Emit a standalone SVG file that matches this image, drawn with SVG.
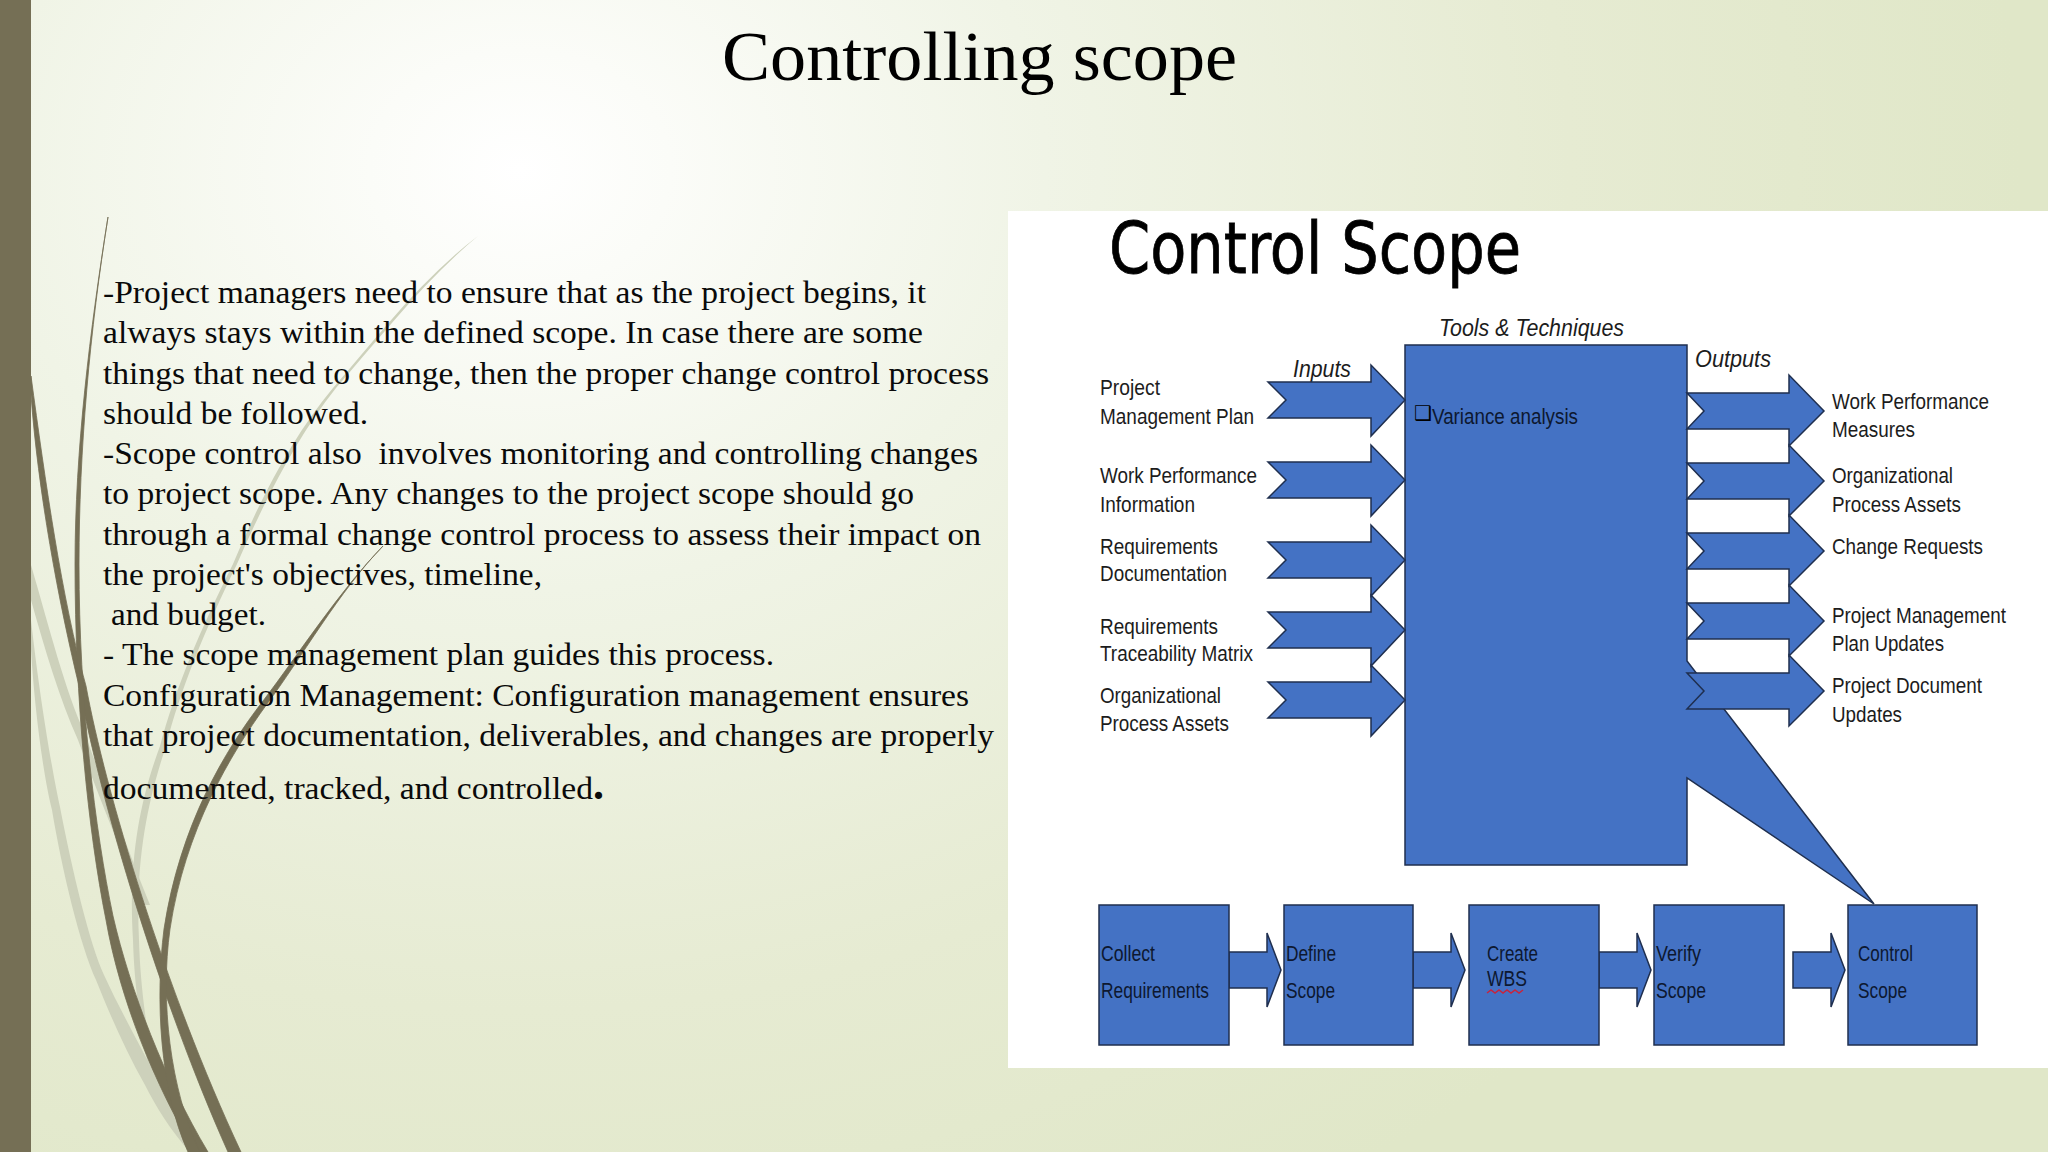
<svg xmlns="http://www.w3.org/2000/svg" width="2048" height="1152" viewBox="0 0 2048 1152">
<defs>
<radialGradient id="bg" gradientUnits="userSpaceOnUse" cx="520" cy="170" r="1500" gradientTransform="translate(520 170) scale(1 0.8) translate(-520 -170)">
<stop offset="0" stop-color="#ffffff"/><stop offset="0.1" stop-color="#fbfcf8"/><stop offset="0.35" stop-color="#f0f4e6"/><stop offset="0.7" stop-color="#e6ebd2"/><stop offset="1" stop-color="#e0e7c8"/>
</radialGradient>
<polygon id="inArrow" points="0,17 103,17 103,0 137,35 103,71 103,53 0,53 18,35"/>
<polygon id="outArrow" points="0,18 102,18 102,0 137,36 102,71 102,54 0,54 17,36"/>
<polygon id="stepArrow" points="0,-18 38,-18 38,-37 52,0 38,37 38,18 0,18"/>
</defs>
<style>
.blue{fill:#4472c4;stroke:#1f2f4f;stroke-width:1.5}
.lab{font-family:"Liberation Sans",Arial,sans-serif;font-size:22px;fill:#1c1c1c}
.it{font-family:"Liberation Sans",Arial,sans-serif;font-size:24px;font-style:italic;fill:#1c1c1c}
.in{font-family:"Liberation Sans",Arial,sans-serif;font-size:22px;fill:#0d1830}
.body{font-family:"Liberation Serif","Times New Roman",serif;font-size:32px;fill:#0a0a0a}
.dark{fill:#756f55;stroke:#756f55;stroke-width:.8}
.lite{fill:#cdd1bb}
</style>
<rect id="background" width="2048" height="1152" fill="url(#bg)"/>
<rect id="bar" width="31" height="1152" fill="#756f55"/>
<g id="wisps">
<path class="lite" d="M478,236 C420,280 375,340 333,388 C290,440 260,500 233,564 C200,630 175,690 160,746 C140,800 128,860 133,940 C134,980 140,1030 150,1075 L155,1072 C146,1030 140,980 139,940 C135,860 148,800 166,746 C180,690 205,630 237,564 C265,500 295,440 336,388 C378,340 425,280 478,236Z"/>
<path class="lite" d="M31,565 C50,630 65,690 85,734 C105,790 125,840 140,880 L150,905 L143,905 C125,860 100,800 78,740 C60,700 45,650 31,600Z"/>
<path class="lite" d="M31,620 C40,700 52,770 60,807 C72,870 90,945 104,975 C120,1010 140,1045 155,1075 C170,1100 185,1130 205,1152 L190,1152 C170,1130 155,1105 145,1085 C125,1050 108,1010 96,980 C80,945 62,870 52,810 C42,770 34,700 31,650Z"/>
<path class="dark" d="M31,376 C45,480 62,600 86,686 C105,790 165,990 241,1152 L228,1152 C160,1000 100,800 80,690 C58,600 38,490 31,395Z"/>
<path class="dark" d="M108,217 C90,330 79,450 79,564 C79,700 95,830 113,916 C130,990 165,1080 208,1152 L195,1152 C155,1085 120,1000 106,920 C88,830 75,700 75,564 C75,450 90,330 108,217Z"/>
<path class="dark" d="M383,546 C340,590 300,660 267,704 C230,755 185,830 170,929 C160,1000 170,1090 200,1152 L188,1152 C160,1090 155,1000 164,929 C180,825 225,750 263,701 C298,655 340,590 383,546Z"/>
</g>
<g id="title"><text x="722" y="80" font-family="Liberation Serif,Times New Roman,serif" font-size="69" fill="#000" textLength="515" lengthAdjust="spacingAndGlyphs">Controlling scope</text></g>
<g id="body-text" class="body">
<text x="103" y="303" textLength="823" lengthAdjust="spacingAndGlyphs">-Project managers need to ensure that as the project begins, it</text>
<text x="103" y="343" textLength="820" lengthAdjust="spacingAndGlyphs">always stays within the defined scope. In case there are some</text>
<text x="103" y="384" textLength="886" lengthAdjust="spacingAndGlyphs">things that need to change, then the proper change control process</text>
<text x="103" y="424" textLength="265" lengthAdjust="spacingAndGlyphs">should be followed.</text>
<text x="103" y="464" textLength="875" lengthAdjust="spacingAndGlyphs" xml:space="preserve">-Scope control also  involves monitoring and controlling changes</text>
<text x="103" y="504" textLength="811" lengthAdjust="spacingAndGlyphs">to project scope. Any changes to the project scope should go</text>
<text x="103" y="545" textLength="878" lengthAdjust="spacingAndGlyphs">through a formal change control process to assess their impact on</text>
<text x="103" y="585" textLength="439" lengthAdjust="spacingAndGlyphs">the project's objectives, timeline,</text>
<text x="111" y="625" textLength="155" lengthAdjust="spacingAndGlyphs">and budget.</text>
<text x="103" y="665" textLength="671" lengthAdjust="spacingAndGlyphs">- The scope management plan guides this process.</text>
<text x="103" y="706" textLength="866" lengthAdjust="spacingAndGlyphs">Configuration Management: Configuration management ensures</text>
<text x="103" y="746" textLength="891" lengthAdjust="spacingAndGlyphs">that project documentation, deliverables, and changes are properly</text>
<text x="103" y="799" textLength="490" lengthAdjust="spacingAndGlyphs">documented, tracked, and controlled</text>
<text x="593" y="799" font-size="44" font-weight="bold">.</text>
</g>
<rect id="picture" x="1008" y="211" width="1040" height="857" fill="#ffffff"/>
<g id="heading"><text x="1109" y="273" font-family="DejaVu Sans,sans-serif" font-size="72" fill="#000" stroke="#000" stroke-width=".8" textLength="412" lengthAdjust="spacingAndGlyphs">Control Scope</text></g>
<g id="process"><path class="blue" d="M1405,345 H1687 V661 L1874,904 L1687,778 V865 H1405Z"/>
<text x="1414" y="420" style="font-family:'DejaVu Sans',sans-serif;font-size:20px;fill:#000">❑</text>
<text class="in" x="1432" y="424" textLength="146" lengthAdjust="spacingAndGlyphs">Variance analysis</text></g>
<g id="headers">
<text class="it" x="1439" y="336" textLength="185" lengthAdjust="spacingAndGlyphs">Tools &amp; Techniques</text>
<text class="it" x="1293" y="377" textLength="58" lengthAdjust="spacingAndGlyphs">Inputs</text>
<text class="it" x="1695" y="367" textLength="76" lengthAdjust="spacingAndGlyphs">Outputs</text>
</g>
<g id="connectors">
<use href="#inArrow" class="blue" x="1268" y="365"/>
<use href="#inArrow" class="blue" x="1268" y="445"/>
<use href="#inArrow" class="blue" x="1268" y="525"/>
<use href="#inArrow" class="blue" x="1268" y="595"/>
<use href="#inArrow" class="blue" x="1268" y="665"/>
<use href="#outArrow" class="blue" x="1687" y="375"/>
<use href="#outArrow" class="blue" x="1687" y="445"/>
<use href="#outArrow" class="blue" x="1687" y="515"/>
<use href="#outArrow" class="blue" x="1687" y="585"/>
<use href="#outArrow" class="blue" x="1687" y="655"/>
<use href="#stepArrow" class="blue" x="1229" y="970"/>
<use href="#stepArrow" class="blue" x="1413" y="970"/>
<use href="#stepArrow" class="blue" x="1599" y="970"/>
<use href="#stepArrow" class="blue" x="1793" y="970"/>
</g>
<g id="inputs">
<g class="lab" id="in1"><text x="1100" y="395" textLength="60" lengthAdjust="spacingAndGlyphs">Project</text><text x="1100" y="424" textLength="154" lengthAdjust="spacingAndGlyphs">Management Plan</text></g>
<g class="lab" id="in2"><text x="1100" y="483" textLength="157" lengthAdjust="spacingAndGlyphs">Work Performance</text><text x="1100" y="512" textLength="95" lengthAdjust="spacingAndGlyphs">Information</text></g>
<g class="lab" id="in3"><text x="1100" y="554" textLength="118" lengthAdjust="spacingAndGlyphs">Requirements</text><text x="1100" y="581" textLength="127" lengthAdjust="spacingAndGlyphs">Documentation</text></g>
<g class="lab" id="in4"><text x="1100" y="634" textLength="118" lengthAdjust="spacingAndGlyphs">Requirements</text><text x="1100" y="661" textLength="153" lengthAdjust="spacingAndGlyphs">Traceability Matrix</text></g>
<g class="lab" id="in5"><text x="1100" y="703" textLength="121" lengthAdjust="spacingAndGlyphs">Organizational</text><text x="1100" y="731" textLength="129" lengthAdjust="spacingAndGlyphs">Process Assets</text></g>
</g>
<g id="outputs">
<g class="lab" id="out1"><text x="1832" y="409" textLength="157" lengthAdjust="spacingAndGlyphs">Work Performance</text><text x="1832" y="437" textLength="83" lengthAdjust="spacingAndGlyphs">Measures</text></g>
<g class="lab" id="out2"><text x="1832" y="483" textLength="121" lengthAdjust="spacingAndGlyphs">Organizational</text><text x="1832" y="512" textLength="129" lengthAdjust="spacingAndGlyphs">Process Assets</text></g>
<g class="lab" id="out3"><text x="1832" y="554" textLength="151" lengthAdjust="spacingAndGlyphs">Change Requests</text></g>
<g class="lab" id="out4"><text x="1832" y="623" textLength="174" lengthAdjust="spacingAndGlyphs">Project Management</text><text x="1832" y="651" textLength="112" lengthAdjust="spacingAndGlyphs">Plan Updates</text></g>
<g class="lab" id="out5"><text x="1832" y="693" textLength="150" lengthAdjust="spacingAndGlyphs">Project Document</text><text x="1832" y="722" textLength="70" lengthAdjust="spacingAndGlyphs">Updates</text></g>
</g>
<g id="step1"><rect class="blue" x="1099" y="905" width="130" height="140"/><text class="in" x="1101" y="961" textLength="54" lengthAdjust="spacingAndGlyphs">Collect</text><text class="in" x="1101" y="998" textLength="108" lengthAdjust="spacingAndGlyphs">Requirements</text></g>
<g id="step2"><rect class="blue" x="1284" y="905" width="129" height="140"/><text class="in" x="1286" y="961" textLength="50" lengthAdjust="spacingAndGlyphs">Define</text><text class="in" x="1286" y="998" textLength="49" lengthAdjust="spacingAndGlyphs">Scope</text></g>
<g id="step3"><rect class="blue" x="1469" y="905" width="130" height="140"/><text class="in" x="1487" y="961" textLength="51" lengthAdjust="spacingAndGlyphs">Create</text><text class="in" x="1487" y="986" textLength="40" lengthAdjust="spacingAndGlyphs">WBS</text><path d="M1487,993 l4,-3 4,3 4,-3 4,3 4,-3 4,3 4,-3 4,3 4,-3" fill="none" stroke="#c8243c" stroke-width="1.5"/></g>
<g id="step4"><rect class="blue" x="1654" y="905" width="130" height="140"/><text class="in" x="1656" y="961" textLength="45" lengthAdjust="spacingAndGlyphs">Verify</text><text class="in" x="1656" y="998" textLength="50" lengthAdjust="spacingAndGlyphs">Scope</text></g>
<g id="step5"><rect class="blue" x="1848" y="905" width="129" height="140"/><text class="in" x="1858" y="961" textLength="55" lengthAdjust="spacingAndGlyphs">Control</text><text class="in" x="1858" y="998" textLength="49" lengthAdjust="spacingAndGlyphs">Scope</text></g>
</svg>
